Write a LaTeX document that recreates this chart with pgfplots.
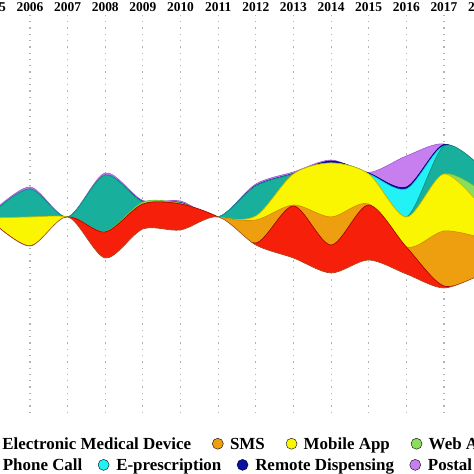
\documentclass[border=0pt]{standalone}
\usepackage{pgfplots}
\pgfplotsset{compat=1.18}
\usepackage{pgfplotstable}
\usepackage{fontspec}
\setmainfont{Liberation Serif}

\definecolor{cRed}{HTML}{F61F0A}
\definecolor{cOrange}{HTML}{EE9F10}
\definecolor{cYellow}{HTML}{FAF500}
\definecolor{cGreen}{HTML}{8CDD5C}
\definecolor{cTeal}{HTML}{18AF9D}
\definecolor{cCyan}{HTML}{22F2F5}
\definecolor{cBlue}{HTML}{0A0FA5}
\definecolor{cPurple}{HTML}{C77FEF}
\definecolor{oRed}{HTML}{A00000}
\definecolor{oOrange}{HTML}{D08A00}
\definecolor{oYellow}{HTML}{C8B400}
\definecolor{oGreen}{HTML}{60B838}
\definecolor{oTeal}{HTML}{0E8A7A}
\definecolor{oCyan}{HTML}{10C8D0}
\definecolor{oBlue}{HTML}{000070}
\definecolor{oPurple}{HTML}{9A5AD0}
\definecolor{oBase}{HTML}{A04010}

% upper edge of each stacked layer (b0 = lower edge of the stream)
\pgfplotstableread{
year b0 b1 b2 b3 b4 b5 b6 b7 b8
2005 252 252 252 256 256 261 261 261 262
2006 228 228 228 257 257 285 285 285 287
2007 257 257 257 257 257 257 257 257 257
2008 216 242 242 242 242.5 299 299 299 301
2009 245 270 270 270 272 272 272 272.5 273.5
2010 244 270 270.5 270.5 270.5 271 271 271.5 273
2011 257 257 257 257 257 257 257 257 257
2012 229 231 254 258 258 288 288 288.5 290
2013 216 268 269 300 300 300 300 300.5 302
2014 201 229 257 311 311 311 311 313 314
2015 214 269 270 300 300 300 300 301 301.5
2016 200 227 227 257 257 257 285 287 318
2017 186 188 243 300 300 328 328 329.5 330
2018 200 200 236 267 283 306 306 306.5 307
}\stream

\pgfplotsset{
  legrow/.style={
    legend columns=-1,
    legend cell align=left,
    legend image code/.code={\fill[##1] (0bp,5.4bp) circle (5.5bp);},
    legend style={draw=none, fill=none, inner sep=0pt, outer sep=0pt,
      font=\fontsize{17}{19}\selectfont\bfseries,
      nodes={inner sep=0pt, anchor=base west},
      /tikz/every odd column/.append style={column sep=#1},
    },
  },
  gridline/.style={black!30, line width=1.1bp, dash pattern=on 1.3bp off 5bp},
}

\begin{document}
\begin{tikzpicture}
\clip (0bp,0bp) rectangle (474bp,474bp);
\begin{axis}[
  at={(-7.64bp,61bp)}, anchor=south west,
  scale only axis, width=489.27bp, height=398bp,
  xmin=2005, xmax=2018, ymin=61, ymax=459,
  xtick={2005,...,2018}, ytick=\empty,
  xticklabel pos=right,
  xticklabel style={font=\fontsize{13.5}{13.5}\selectfont\bfseries},
  /pgf/number format/assume math mode=true,
  /pgf/number format/1000 sep={},
  major tick length=0pt,
  axis line style={draw=none},
  xmajorgrids,
  grid style={gridline},
  legrow=6.5bp,
  legend style={at={(axis description cs:-0.0161,-0.0779)}, anchor=west,
    /tikz/every even column/.append style={column sep=21bp}},
]
\addlegendimage{fill=cRed}\addlegendentry{Electronic Medical Device}
\addlegendimage{fill=cOrange}\addlegendentry{SMS}
\addlegendimage{fill=cYellow}\addlegendentry{Mobile App}
\addlegendimage{fill=cGreen}\addlegendentry{Web App}

% each layer filled from its upper edge downwards, top layer first
\addplot[smooth, fill=cPurple, draw=oPurple, line width=0.6bp, forget plot] table[x=year,y=b8]{\stream} \closedcycle;
\addplot[smooth, fill=cBlue, draw=oBlue, line width=0.6bp, forget plot] table[x=year,y=b7]{\stream} \closedcycle;
\addplot[smooth, fill=cCyan, draw=oCyan, line width=0.6bp, forget plot] table[x=year,y=b6]{\stream} \closedcycle;
\addplot[smooth, fill=cTeal, draw=oTeal, line width=0.6bp, forget plot] table[x=year,y=b5]{\stream} \closedcycle;
\addplot[smooth, fill=cGreen, draw=oGreen, line width=0.6bp, forget plot] table[x=year,y=b4]{\stream} \closedcycle;
\addplot[smooth, fill=cYellow, draw=oYellow, line width=0.6bp, forget plot] table[x=year,y=b3]{\stream} \closedcycle;
\addplot[smooth, fill=cOrange, draw=oOrange, line width=0.6bp, forget plot] table[x=year,y=b2]{\stream} \closedcycle;
\addplot[smooth, fill=cRed, draw=oRed, line width=0.6bp, forget plot] table[x=year,y=b1]{\stream} \closedcycle;
% clear below the lower edge, then the grid there again
\addplot[smooth, fill=white, draw=none, forget plot] table[x=year,y=b0]{\stream} \closedcycle;
\addplot[smooth, draw=oBase, line width=0.6bp, forget plot] table[x=year,y=b0]{\stream};
\addplot[ycomb, gridline, mark=none, forget plot] table[x=year,y=b0]{\stream};
\end{axis}

\begin{axis}[
  at={(-7.64bp,61bp)}, anchor=south west,
  scale only axis, width=489.27bp, height=398bp,
  xmin=2005, xmax=2018, ymin=61, ymax=459,
  hide axis,
  legrow=7bp,
  legend style={at={(axis description cs:-0.0161,-0.131)}, anchor=west,
    /tikz/every even column/.append style={column sep=15.5bp}},
]
\addlegendimage{fill=cTeal}\addlegendentry{Phone Call}
\addlegendimage{fill=cCyan}\addlegendentry{E-prescription}
\addlegendimage{fill=cBlue}\addlegendentry{Remote Dispensing}
\addlegendimage{fill=cPurple}\addlegendentry{Postal}
\addplot[draw=none, forget plot] coordinates {(2005,61) (2018,459)};
\end{axis}
\end{tikzpicture}
\end{document}
